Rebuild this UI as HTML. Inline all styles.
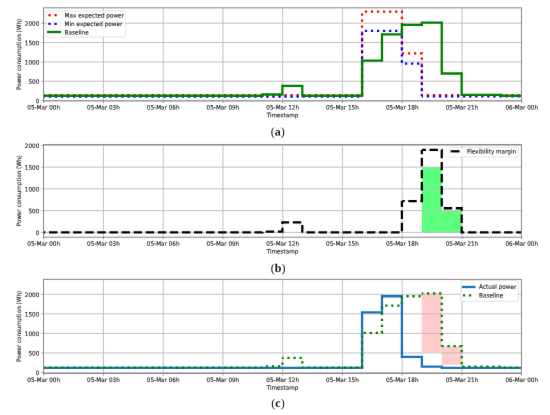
<!DOCTYPE html>
<html><head><meta charset="utf-8"><title>Power consumption figure</title>
<style>html,body{margin:0;padding:0;background:#fff;width:550px;height:415px;overflow:hidden}svg{display:block}</style>
</head><body>
<svg width="550" height="415" viewBox="0 0 550 415">
<defs>
<clipPath id="ca"><rect x="43.55" y="7.85" width="477.90" height="93.10"/></clipPath>
<clipPath id="cb"><rect x="43.55" y="144.55" width="477.90" height="92.65"/></clipPath>
<clipPath id="cc"><rect x="43.55" y="279.40" width="477.90" height="94.05"/></clipPath>
<filter id="bl" x="0" y="0" width="550" height="415" filterUnits="userSpaceOnUse" color-interpolation-filters="sRGB"><feConvolveMatrix order="3" kernelMatrix="0.00276 0.04704 0.00276 0.04704 0.80077 0.04704 0.00276 0.04704 0.00276" divisor="1" edgeMode="duplicate" preserveAlpha="true"/></filter>
</defs>
<rect width="550" height="415" fill="#fff"/>
<g filter="url(#bl)">
<rect width="550" height="415" fill="#fff"/>
<style>text.t{stroke:#1e1e1e;stroke-width:0.120px}</style>
<g font-family="'DejaVu Sans', 'Liberation Sans', sans-serif" font-size="5.70" fill="#1e1e1e" text-rendering="geometricPrecision">
<g stroke="#bababa" stroke-width="0.90"><line x1="103.41" y1="7.85" x2="103.41" y2="100.95"/><line x1="163.17" y1="7.85" x2="163.17" y2="100.95"/><line x1="222.93" y1="7.85" x2="222.93" y2="100.95"/><line x1="282.69" y1="7.85" x2="282.69" y2="100.95"/><line x1="342.45" y1="7.85" x2="342.45" y2="100.95"/><line x1="402.21" y1="7.85" x2="402.21" y2="100.95"/><line x1="461.97" y1="7.85" x2="461.97" y2="100.95"/><line x1="43.55" y1="100.60" x2="521.45" y2="100.60"/><line x1="43.55" y1="81.25" x2="521.45" y2="81.25"/><line x1="43.55" y1="61.90" x2="521.45" y2="61.90"/><line x1="43.55" y1="42.55" x2="521.45" y2="42.55"/><line x1="43.55" y1="23.20" x2="521.45" y2="23.20"/></g>
<g clip-path="url(#ca)">
<path d="M43.35,95.18 L362.07,95.18 L362.07,11.59" fill="none" stroke="#ff0000" stroke-width="2.280" stroke-dasharray="2.280 3.762" stroke-dashoffset="0.590"/><path d="M362.07,11.59 L401.91,11.59 L401.91,53.31" fill="none" stroke="#ff0000" stroke-width="2.280" stroke-dasharray="2.280 3.762" stroke-dashoffset="3.252"/><path d="M401.91,53.31 L421.83,53.31 L421.83,95.07" fill="none" stroke="#ff0000" stroke-width="2.280" stroke-dasharray="2.280 3.762" stroke-dashoffset="0.050"/><path d="M421.83,95.07 L521.43,95.07" fill="none" stroke="#ff0000" stroke-width="2.280" stroke-dasharray="2.280 3.762" stroke-dashoffset="1.070"/>
<path d="M43.35,96.73 L362.07,96.73 L362.07,30.94" fill="none" stroke="#0000ff" stroke-width="2.280" stroke-dasharray="2.280 3.762" stroke-dashoffset="0.590"/><path d="M362.07,30.94 L401.91,30.94 L401.91,63.64" fill="none" stroke="#0000ff" stroke-width="2.280" stroke-dasharray="2.280 3.762" stroke-dashoffset="3.252"/><path d="M401.91,63.64 L421.83,63.64 L421.83,96.34" fill="none" stroke="#0000ff" stroke-width="2.280" stroke-dasharray="2.280 3.762" stroke-dashoffset="2.992"/><path d="M421.83,96.34 L521.43,96.34" fill="none" stroke="#0000ff" stroke-width="2.280" stroke-dasharray="2.280 3.762" stroke-dashoffset="1.070"/>
<path d="M43.35,95.76 L262.47,95.76 L262.47,94.49 L282.39,94.49 L282.39,85.89 L302.31,85.89 L302.31,95.76 L362.07,95.76 L362.07,60.55 L381.99,60.55 L381.99,34.42 L401.91,34.42 L401.91,24.94 L421.83,24.94 L421.83,22.62 L441.75,22.62 L441.75,73.51 L461.67,73.51 L461.67,94.79 L501.51,94.79 L501.51,95.76 L521.43,95.76" fill="none" stroke="#008000" stroke-width="2.30"/>
</g>
<rect x="43.55" y="7.85" width="477.90" height="93.10" fill="none" stroke="#868686" stroke-width="1.00"/>
<g stroke="#868686" stroke-width="0.9"><line x1="43.65" y1="100.95" x2="43.65" y2="102.95"/><line x1="103.41" y1="100.95" x2="103.41" y2="102.95"/><line x1="163.17" y1="100.95" x2="163.17" y2="102.95"/><line x1="222.93" y1="100.95" x2="222.93" y2="102.95"/><line x1="282.69" y1="100.95" x2="282.69" y2="102.95"/><line x1="342.45" y1="100.95" x2="342.45" y2="102.95"/><line x1="402.21" y1="100.95" x2="402.21" y2="102.95"/><line x1="461.97" y1="100.95" x2="461.97" y2="102.95"/><line x1="521.73" y1="100.95" x2="521.73" y2="102.95"/><line x1="41.55" y1="100.60" x2="43.55" y2="100.60"/><line x1="41.55" y1="81.25" x2="43.55" y2="81.25"/><line x1="41.55" y1="61.90" x2="43.55" y2="61.90"/><line x1="41.55" y1="42.55" x2="43.55" y2="42.55"/><line x1="41.55" y1="23.20" x2="43.55" y2="23.20"/></g>
<text class="t" transform="translate(39.30,103.20) rotate(0.05) scale(1.0000,1.0600)" text-anchor="end">0</text>
<text class="t" transform="translate(39.30,83.85) rotate(0.05) scale(1.0000,1.0600)" text-anchor="end">500</text>
<text class="t" transform="translate(39.30,64.50) rotate(0.05) scale(1.0000,1.0600)" text-anchor="end">1000</text>
<text class="t" transform="translate(39.30,45.15) rotate(0.05) scale(1.0000,1.0600)" text-anchor="end">1500</text>
<text class="t" transform="translate(39.30,25.80) rotate(0.05) scale(1.0000,1.0600)" text-anchor="end">2000</text>
<text class="t" transform="translate(43.65,109.55) rotate(0.05) scale(1.0000,1.0600)" text-anchor="middle">05-Mar 00h</text>
<text class="t" transform="translate(103.41,109.55) rotate(0.05) scale(1.0000,1.0600)" text-anchor="middle">05-Mar 03h</text>
<text class="t" transform="translate(163.17,109.55) rotate(0.05) scale(1.0000,1.0600)" text-anchor="middle">05-Mar 06h</text>
<text class="t" transform="translate(222.93,109.55) rotate(0.05) scale(1.0000,1.0600)" text-anchor="middle">05-Mar 09h</text>
<text class="t" transform="translate(282.69,109.55) rotate(0.05) scale(1.0000,1.0600)" text-anchor="middle">05-Mar 12h</text>
<text class="t" transform="translate(342.45,109.55) rotate(0.05) scale(1.0000,1.0600)" text-anchor="middle">05-Mar 15h</text>
<text class="t" transform="translate(402.21,109.55) rotate(0.05) scale(1.0000,1.0600)" text-anchor="middle">05-Mar 18h</text>
<text class="t" transform="translate(461.97,109.55) rotate(0.05) scale(1.0000,1.0600)" text-anchor="middle">05-Mar 21h</text>
<text class="t" transform="translate(521.73,109.55) rotate(0.05) scale(1.0000,1.0600)" text-anchor="middle">06-Mar 00h</text>
<text class="t" transform="translate(282.50,117.35) rotate(0.05) scale(1.0000,1.0600)" text-anchor="middle">Timestamp</text>
<text class="t" transform="translate(21.10,54.40) rotate(-89.95) scale(1.0000,1.0600)" text-anchor="middle">Power consumption (Wh)</text>
<rect x="46.2" y="10.9" width="79.6" height="26.2" rx="1.5" fill="#fff" fill-opacity="0.8" stroke="#d8d8d8" stroke-width="0.7"/>
<rect x="48.35" y="14.05" width="2.30" height="2.30" rx="0.5" fill="#ff0000"/><rect x="54.45" y="14.05" width="2.30" height="2.30" rx="0.5" fill="#ff0000"/>
<rect x="48.35" y="22.65" width="2.30" height="2.30" rx="0.5" fill="#0000ff"/><rect x="54.45" y="22.65" width="2.30" height="2.30" rx="0.5" fill="#0000ff"/>
<path d="M47.1,32.0 L61.0,32.0" fill="none" stroke="#008000" stroke-width="2.30"/>
<text class="t" transform="translate(64.60,17.50) rotate(0.05) scale(1.0000,1.0600)">Max expected power</text>
<text class="t" transform="translate(64.60,25.90) rotate(0.05) scale(1.0000,1.0600)">Min expected power</text>
<text class="t" transform="translate(64.60,34.50) rotate(0.05) scale(1.0000,1.0600)">Baseline</text>
<g clip-path="url(#cb)">
<path d="M421.83,232.40 L421.83,167.15 L441.75,167.15 L441.75,210.65 L461.67,210.65 L461.67,232.40 Z" fill="#5cff7e"/>
</g>
<g stroke="#bababa" stroke-width="0.90"><line x1="103.41" y1="144.55" x2="103.41" y2="237.20"/><line x1="163.17" y1="144.55" x2="163.17" y2="237.20"/><line x1="222.93" y1="144.55" x2="222.93" y2="237.20"/><line x1="282.69" y1="144.55" x2="282.69" y2="237.20"/><line x1="342.45" y1="144.55" x2="342.45" y2="237.20"/><line x1="402.21" y1="144.55" x2="402.21" y2="237.20"/><line x1="461.97" y1="144.55" x2="461.97" y2="237.20"/><line x1="43.55" y1="232.40" x2="521.45" y2="232.40"/><line x1="43.55" y1="210.65" x2="521.45" y2="210.65"/><line x1="43.55" y1="188.90" x2="521.45" y2="188.90"/><line x1="43.55" y1="167.15" x2="521.45" y2="167.15"/><line x1="43.55" y1="145.40" x2="521.45" y2="145.40"/></g>
<g clip-path="url(#cb)">
<path d="M36.78,232.40 L262.47,232.40 L262.47,231.62 L282.39,231.62 L282.39,222.40 L302.31,222.40 L302.31,232.40" fill="none" stroke="#000000" stroke-width="2.280" stroke-dasharray="8.436 3.648" stroke-dashoffset="11.944"/><path d="M302.31,232.40 L401.91,232.40 L401.91,201.08" fill="none" stroke="#000000" stroke-width="2.280" stroke-dasharray="8.436 3.648" stroke-dashoffset="7.894"/><path d="M401.91,201.08 L421.83,201.08 L421.83,149.97" fill="none" stroke="#000000" stroke-width="2.280" stroke-dasharray="8.436 3.648" stroke-dashoffset="5.694"/><path d="M421.83,149.97 L441.75,149.97 L441.75,208.26 L461.67,208.26 L461.67,232.40 L527.41,232.40" fill="none" stroke="#000000" stroke-width="2.280" stroke-dasharray="8.436 3.648" stroke-dashoffset="4.414"/>
</g>
<rect x="43.55" y="144.55" width="477.90" height="92.65" fill="none" stroke="#868686" stroke-width="1.00"/>
<g stroke="#868686" stroke-width="0.9"><line x1="43.65" y1="237.20" x2="43.65" y2="239.20"/><line x1="103.41" y1="237.20" x2="103.41" y2="239.20"/><line x1="163.17" y1="237.20" x2="163.17" y2="239.20"/><line x1="222.93" y1="237.20" x2="222.93" y2="239.20"/><line x1="282.69" y1="237.20" x2="282.69" y2="239.20"/><line x1="342.45" y1="237.20" x2="342.45" y2="239.20"/><line x1="402.21" y1="237.20" x2="402.21" y2="239.20"/><line x1="461.97" y1="237.20" x2="461.97" y2="239.20"/><line x1="521.73" y1="237.20" x2="521.73" y2="239.20"/><line x1="41.55" y1="232.40" x2="43.55" y2="232.40"/><line x1="41.55" y1="210.65" x2="43.55" y2="210.65"/><line x1="41.55" y1="188.90" x2="43.55" y2="188.90"/><line x1="41.55" y1="167.15" x2="43.55" y2="167.15"/><line x1="41.55" y1="145.40" x2="43.55" y2="145.40"/></g>
<text class="t" transform="translate(39.30,235.00) rotate(0.05) scale(1.0000,1.0600)" text-anchor="end">0</text>
<text class="t" transform="translate(39.30,213.25) rotate(0.05) scale(1.0000,1.0600)" text-anchor="end">500</text>
<text class="t" transform="translate(39.30,191.50) rotate(0.05) scale(1.0000,1.0600)" text-anchor="end">1000</text>
<text class="t" transform="translate(39.30,169.75) rotate(0.05) scale(1.0000,1.0600)" text-anchor="end">1500</text>
<text class="t" transform="translate(39.30,148.00) rotate(0.05) scale(1.0000,1.0600)" text-anchor="end">2000</text>
<text class="t" transform="translate(43.65,245.80) rotate(0.05) scale(1.0000,1.0600)" text-anchor="middle">05-Mar 00h</text>
<text class="t" transform="translate(103.41,245.80) rotate(0.05) scale(1.0000,1.0600)" text-anchor="middle">05-Mar 03h</text>
<text class="t" transform="translate(163.17,245.80) rotate(0.05) scale(1.0000,1.0600)" text-anchor="middle">05-Mar 06h</text>
<text class="t" transform="translate(222.93,245.80) rotate(0.05) scale(1.0000,1.0600)" text-anchor="middle">05-Mar 09h</text>
<text class="t" transform="translate(282.69,245.80) rotate(0.05) scale(1.0000,1.0600)" text-anchor="middle">05-Mar 12h</text>
<text class="t" transform="translate(342.45,245.80) rotate(0.05) scale(1.0000,1.0600)" text-anchor="middle">05-Mar 15h</text>
<text class="t" transform="translate(402.21,245.80) rotate(0.05) scale(1.0000,1.0600)" text-anchor="middle">05-Mar 18h</text>
<text class="t" transform="translate(461.97,245.80) rotate(0.05) scale(1.0000,1.0600)" text-anchor="middle">05-Mar 21h</text>
<text class="t" transform="translate(521.73,245.80) rotate(0.05) scale(1.0000,1.0600)" text-anchor="middle">06-Mar 00h</text>
<text class="t" transform="translate(282.50,253.60) rotate(0.05) scale(1.0000,1.0600)" text-anchor="middle">Timestamp</text>
<text class="t" transform="translate(21.10,190.88) rotate(-89.95) scale(1.0000,1.0600)" text-anchor="middle">Power consumption (Wh)</text>
<rect x="449.2" y="147.4" width="69.4" height="9.6" rx="1.5" fill="#fff" fill-opacity="0.8" stroke="#d8d8d8" stroke-width="0.7"/>
<path d="M450.7,151.3 L459.5,151.3" fill="none" stroke="#000000" stroke-width="2.28"/>
<text class="t" transform="translate(467.10,153.55) rotate(0.05) scale(1.0000,1.0600)">Flexibility margin</text>
<g clip-path="url(#cc)">
<path d="M421.83,352.17 L421.83,293.32 L441.75,293.32 L441.75,352.17 Z" fill="#ffcdcc"/>
<path d="M441.75,364.68 L441.75,346.15 L461.67,346.15 L461.67,364.68 Z" fill="#ffcdcc"/>
</g>
<g stroke="#bababa" stroke-width="0.90"><line x1="103.41" y1="279.40" x2="103.41" y2="373.45"/><line x1="163.17" y1="279.40" x2="163.17" y2="373.45"/><line x1="222.93" y1="279.40" x2="222.93" y2="373.45"/><line x1="282.69" y1="279.40" x2="282.69" y2="373.45"/><line x1="342.45" y1="279.40" x2="342.45" y2="373.45"/><line x1="402.21" y1="279.40" x2="402.21" y2="373.45"/><line x1="461.97" y1="279.40" x2="461.97" y2="373.45"/><line x1="43.55" y1="372.50" x2="521.45" y2="372.50"/><line x1="43.55" y1="352.95" x2="521.45" y2="352.95"/><line x1="43.55" y1="333.40" x2="521.45" y2="333.40"/><line x1="43.55" y1="313.85" x2="521.45" y2="313.85"/><line x1="43.55" y1="294.30" x2="521.45" y2="294.30"/></g>
<g clip-path="url(#cc)">
<path d="M43.35,367.89 L362.07,367.89 L362.07,312.29 L381.99,312.29 L381.99,296.25 L401.91,296.25 L401.91,356.86 L421.83,356.86 L421.83,366.63 L441.75,366.63 L441.75,367.81 L521.43,367.81" fill="none" stroke="#1a74b6" stroke-width="2.30"/>
<path d="M43.35,367.61 L262.47,367.61 L262.47,366.32" fill="none" stroke="#008000" stroke-width="2.280" stroke-dasharray="2.280 3.762" stroke-dashoffset="0.440"/><path d="M262.47,366.32 L282.39,366.32 L282.39,357.95" fill="none" stroke="#008000" stroke-width="2.280" stroke-dasharray="2.280 3.762" stroke-dashoffset="2.652"/><path d="M282.39,357.95 L302.31,357.95 L302.31,367.61" fill="none" stroke="#008000" stroke-width="2.280" stroke-dasharray="2.280 3.762" stroke-dashoffset="1.030"/><path d="M302.31,367.61 L362.07,367.61 L362.07,332.81" fill="none" stroke="#008000" stroke-width="2.280" stroke-dasharray="2.280 3.762" stroke-dashoffset="0.850"/><path d="M362.07,332.81 L381.99,332.81 L381.99,305.64" fill="none" stroke="#008000" stroke-width="2.280" stroke-dasharray="2.280 3.762" stroke-dashoffset="4.452"/><path d="M381.99,305.64 L401.91,305.64 L401.91,296.25" fill="none" stroke="#008000" stroke-width="2.280" stroke-dasharray="2.280 3.762" stroke-dashoffset="2.872"/><path d="M401.91,296.25 L421.83,296.25 L421.83,293.32" fill="none" stroke="#008000" stroke-width="2.280" stroke-dasharray="2.280 3.762" stroke-dashoffset="1.550"/><path d="M421.83,293.32 L441.75,293.32 L441.75,346.15" fill="none" stroke="#008000" stroke-width="2.280" stroke-dasharray="2.280 3.762" stroke-dashoffset="0.870"/><path d="M441.75,346.15 L461.67,346.15 L461.67,366.63" fill="none" stroke="#008000" stroke-width="2.280" stroke-dasharray="2.280 3.762" stroke-dashoffset="0.390"/><path d="M461.67,366.63 L501.51,366.63 L501.51,367.61 L521.43,367.61" fill="none" stroke="#008000" stroke-width="2.280" stroke-dasharray="2.280 3.762" stroke-dashoffset="5.552"/>
</g>
<rect x="43.55" y="279.40" width="477.90" height="94.05" fill="none" stroke="#868686" stroke-width="1.00"/>
<g stroke="#868686" stroke-width="0.9"><line x1="43.65" y1="373.45" x2="43.65" y2="375.45"/><line x1="103.41" y1="373.45" x2="103.41" y2="375.45"/><line x1="163.17" y1="373.45" x2="163.17" y2="375.45"/><line x1="222.93" y1="373.45" x2="222.93" y2="375.45"/><line x1="282.69" y1="373.45" x2="282.69" y2="375.45"/><line x1="342.45" y1="373.45" x2="342.45" y2="375.45"/><line x1="402.21" y1="373.45" x2="402.21" y2="375.45"/><line x1="461.97" y1="373.45" x2="461.97" y2="375.45"/><line x1="521.73" y1="373.45" x2="521.73" y2="375.45"/><line x1="41.55" y1="372.50" x2="43.55" y2="372.50"/><line x1="41.55" y1="352.95" x2="43.55" y2="352.95"/><line x1="41.55" y1="333.40" x2="43.55" y2="333.40"/><line x1="41.55" y1="313.85" x2="43.55" y2="313.85"/><line x1="41.55" y1="294.30" x2="43.55" y2="294.30"/></g>
<text class="t" transform="translate(39.30,375.10) rotate(0.05) scale(1.0000,1.0600)" text-anchor="end">0</text>
<text class="t" transform="translate(39.30,355.55) rotate(0.05) scale(1.0000,1.0600)" text-anchor="end">500</text>
<text class="t" transform="translate(39.30,336.00) rotate(0.05) scale(1.0000,1.0600)" text-anchor="end">1000</text>
<text class="t" transform="translate(39.30,316.45) rotate(0.05) scale(1.0000,1.0600)" text-anchor="end">1500</text>
<text class="t" transform="translate(39.30,296.90) rotate(0.05) scale(1.0000,1.0600)" text-anchor="end">2000</text>
<text class="t" transform="translate(43.65,382.05) rotate(0.05) scale(1.0000,1.0600)" text-anchor="middle">05-Mar 00h</text>
<text class="t" transform="translate(103.41,382.05) rotate(0.05) scale(1.0000,1.0600)" text-anchor="middle">05-Mar 03h</text>
<text class="t" transform="translate(163.17,382.05) rotate(0.05) scale(1.0000,1.0600)" text-anchor="middle">05-Mar 06h</text>
<text class="t" transform="translate(222.93,382.05) rotate(0.05) scale(1.0000,1.0600)" text-anchor="middle">05-Mar 09h</text>
<text class="t" transform="translate(282.69,382.05) rotate(0.05) scale(1.0000,1.0600)" text-anchor="middle">05-Mar 12h</text>
<text class="t" transform="translate(342.45,382.05) rotate(0.05) scale(1.0000,1.0600)" text-anchor="middle">05-Mar 15h</text>
<text class="t" transform="translate(402.21,382.05) rotate(0.05) scale(1.0000,1.0600)" text-anchor="middle">05-Mar 18h</text>
<text class="t" transform="translate(461.97,382.05) rotate(0.05) scale(1.0000,1.0600)" text-anchor="middle">05-Mar 21h</text>
<text class="t" transform="translate(521.73,382.05) rotate(0.05) scale(1.0000,1.0600)" text-anchor="middle">06-Mar 00h</text>
<text class="t" transform="translate(282.50,389.85) rotate(0.05) scale(1.0000,1.0600)" text-anchor="middle">Timestamp</text>
<text class="t" transform="translate(21.10,326.42) rotate(-89.95) scale(1.0000,1.0600)" text-anchor="middle">Power consumption (Wh)</text>
<rect x="460.8" y="280.6" width="57.6" height="20.7" rx="1.5" fill="#fff" fill-opacity="0.8" stroke="#d8d8d8" stroke-width="0.7"/>
<path d="M461.9,287.0 L475.5,287.0" fill="none" stroke="#1a74b6" stroke-width="2.30"/>
<rect x="462.95" y="294.15" width="2.30" height="2.30" rx="0.5" fill="#008000"/><rect x="468.95" y="294.15" width="2.30" height="2.30" rx="0.5" fill="#008000"/>
<text class="t" transform="translate(479.10,288.85) rotate(0.05) scale(1.0000,1.0600)">Actual power</text>
<text class="t" transform="translate(479.10,297.40) rotate(0.05) scale(1.0000,1.0600)">Baseline</text>
</g>
<text transform="translate(277.80,135.50) rotate(0.05)" text-anchor="middle" style="font-family:'Liberation Serif','DejaVu Serif',serif;font-size:12px;fill:#111">(<tspan font-weight="bold">a</tspan>)</text>
<text transform="translate(278.20,271.90) rotate(0.05)" text-anchor="middle" style="font-family:'Liberation Serif','DejaVu Serif',serif;font-size:12px;fill:#111">(<tspan font-weight="bold">b</tspan>)</text>
<text transform="translate(278.00,407.10) rotate(0.05)" text-anchor="middle" style="font-family:'Liberation Serif','DejaVu Serif',serif;font-size:12px;fill:#111">(<tspan font-weight="bold">c</tspan>)</text>
</g>
</svg>
</body></html>
